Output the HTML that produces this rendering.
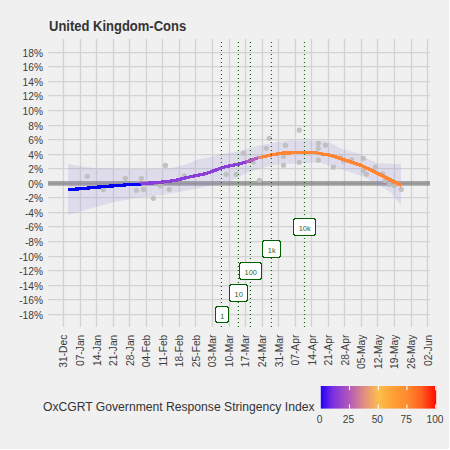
<!DOCTYPE html><html><head><meta charset="utf-8"><style>
html,body{margin:0;padding:0;background:#fff;}
svg{display:block;}
text{font-family:"Liberation Sans",sans-serif;}
</style></head><body>
<svg width="450" height="450" viewBox="0 0 450 450">
<rect x="0" y="0" width="449" height="449" fill="#F0F0F0"/>

<line x1="48" y1="314.55" x2="430" y2="314.55" stroke="#D3D3D3" stroke-width="1.3"/>
<line x1="48" y1="299.55" x2="430" y2="299.55" stroke="#D3D3D3" stroke-width="1.3"/>
<line x1="48" y1="285.55" x2="430" y2="285.55" stroke="#D3D3D3" stroke-width="1.3"/>
<line x1="48" y1="270.55" x2="430" y2="270.55" stroke="#D3D3D3" stroke-width="1.3"/>
<line x1="48" y1="256.55" x2="430" y2="256.55" stroke="#D3D3D3" stroke-width="1.3"/>
<line x1="48" y1="241.55" x2="430" y2="241.55" stroke="#D3D3D3" stroke-width="1.3"/>
<line x1="48" y1="226.55" x2="430" y2="226.55" stroke="#D3D3D3" stroke-width="1.3"/>
<line x1="48" y1="212.55" x2="430" y2="212.55" stroke="#D3D3D3" stroke-width="1.3"/>
<line x1="48" y1="197.55" x2="430" y2="197.55" stroke="#D3D3D3" stroke-width="1.3"/>
<line x1="48" y1="183.55" x2="430" y2="183.55" stroke="#D3D3D3" stroke-width="1.3"/>
<line x1="48" y1="168.55" x2="430" y2="168.55" stroke="#D3D3D3" stroke-width="1.3"/>
<line x1="48" y1="154.55" x2="430" y2="154.55" stroke="#D3D3D3" stroke-width="1.3"/>
<line x1="48" y1="139.55" x2="430" y2="139.55" stroke="#D3D3D3" stroke-width="1.3"/>
<line x1="48" y1="125.55" x2="430" y2="125.55" stroke="#D3D3D3" stroke-width="1.3"/>
<line x1="48" y1="110.55" x2="430" y2="110.55" stroke="#D3D3D3" stroke-width="1.3"/>
<line x1="48" y1="95.55" x2="430" y2="95.55" stroke="#D3D3D3" stroke-width="1.3"/>
<line x1="48" y1="81.55" x2="430" y2="81.55" stroke="#D3D3D3" stroke-width="1.3"/>
<line x1="48" y1="66.55" x2="430" y2="66.55" stroke="#D3D3D3" stroke-width="1.3"/>
<line x1="48" y1="52.55" x2="430" y2="52.55" stroke="#D3D3D3" stroke-width="1.3"/>
<line x1="63.50" y1="39" x2="63.50" y2="327" stroke="#D3D3D3" stroke-width="1.3"/>
<line x1="80.50" y1="39" x2="80.50" y2="327" stroke="#D3D3D3" stroke-width="1.3"/>
<line x1="96.50" y1="39" x2="96.50" y2="327" stroke="#D3D3D3" stroke-width="1.3"/>
<line x1="113.50" y1="39" x2="113.50" y2="327" stroke="#D3D3D3" stroke-width="1.3"/>
<line x1="129.50" y1="39" x2="129.50" y2="327" stroke="#D3D3D3" stroke-width="1.3"/>
<line x1="146.50" y1="39" x2="146.50" y2="327" stroke="#D3D3D3" stroke-width="1.3"/>
<line x1="162.50" y1="39" x2="162.50" y2="327" stroke="#D3D3D3" stroke-width="1.3"/>
<line x1="179.50" y1="39" x2="179.50" y2="327" stroke="#D3D3D3" stroke-width="1.3"/>
<line x1="195.50" y1="39" x2="195.50" y2="327" stroke="#D3D3D3" stroke-width="1.3"/>
<line x1="212.50" y1="39" x2="212.50" y2="327" stroke="#D3D3D3" stroke-width="1.3"/>
<line x1="229.50" y1="39" x2="229.50" y2="327" stroke="#D3D3D3" stroke-width="1.3"/>
<line x1="245.50" y1="39" x2="245.50" y2="327" stroke="#D3D3D3" stroke-width="1.3"/>
<line x1="262.50" y1="39" x2="262.50" y2="327" stroke="#D3D3D3" stroke-width="1.3"/>
<line x1="278.50" y1="39" x2="278.50" y2="327" stroke="#D3D3D3" stroke-width="1.3"/>
<line x1="295.50" y1="39" x2="295.50" y2="327" stroke="#D3D3D3" stroke-width="1.3"/>
<line x1="311.50" y1="39" x2="311.50" y2="327" stroke="#D3D3D3" stroke-width="1.3"/>
<line x1="328.50" y1="39" x2="328.50" y2="327" stroke="#D3D3D3" stroke-width="1.3"/>
<line x1="344.50" y1="39" x2="344.50" y2="327" stroke="#D3D3D3" stroke-width="1.3"/>
<line x1="361.50" y1="39" x2="361.50" y2="327" stroke="#D3D3D3" stroke-width="1.3"/>
<line x1="377.50" y1="39" x2="377.50" y2="327" stroke="#D3D3D3" stroke-width="1.3"/>
<line x1="394.50" y1="39" x2="394.50" y2="327" stroke="#D3D3D3" stroke-width="1.3"/>
<line x1="411.50" y1="39" x2="411.50" y2="327" stroke="#D3D3D3" stroke-width="1.3"/>
<line x1="427.50" y1="39" x2="427.50" y2="327" stroke="#D3D3D3" stroke-width="1.3"/>
<line x1="48" y1="183.45" x2="430" y2="183.45" stroke="#555555" stroke-opacity="0.5" stroke-width="4.8"/>
<polygon points="68,164 87,167.3 98,168.3 126,169 150,169 170,168.2 187.8,164 196.7,159.8 210,157 221.4,154.2 240,151.1 256.7,146.1 273.3,142.8 290,140.6 325,140.7 335,145 340,148.3 360.2,154 364.9,157.6 377.3,163.2 401,164 401,205.5 391,192.5 377.3,184.3 363.3,176.5 340,168.8 320,162.7 300,163.3 275,164.8 261.7,168 246,173.5 231.7,180.5 209,186 165,194.7 136.7,197.7 112,202.4 68,214.7" fill="#9A94D6" fill-opacity="0.21"/>
<circle cx="87.3" cy="176.3" r="2.6" fill="#BDBDBD" fill-opacity="0.9"/>
<circle cx="103.4" cy="189.6" r="2.6" fill="#BDBDBD" fill-opacity="0.9"/>
<circle cx="125.3" cy="178.3" r="2.6" fill="#BDBDBD" fill-opacity="0.9"/>
<circle cx="141.4" cy="178.3" r="2.6" fill="#BDBDBD" fill-opacity="0.9"/>
<circle cx="136.4" cy="190.3" r="2.6" fill="#BDBDBD" fill-opacity="0.9"/>
<circle cx="143.4" cy="189.4" r="2.6" fill="#BDBDBD" fill-opacity="0.9"/>
<circle cx="153.3" cy="198.3" r="2.6" fill="#BDBDBD" fill-opacity="0.9"/>
<circle cx="160.4" cy="185.7" r="2.6" fill="#BDBDBD" fill-opacity="0.9"/>
<circle cx="165.5" cy="165.4" r="2.6" fill="#BDBDBD" fill-opacity="0.9"/>
<circle cx="169.3" cy="189.3" r="2.6" fill="#BDBDBD" fill-opacity="0.9"/>
<circle cx="184.3" cy="175.8" r="2.6" fill="#BDBDBD" fill-opacity="0.9"/>
<circle cx="226.2" cy="174.3" r="2.6" fill="#BDBDBD" fill-opacity="0.9"/>
<circle cx="236.2" cy="174.3" r="2.6" fill="#BDBDBD" fill-opacity="0.9"/>
<circle cx="243.3" cy="153.3" r="2.6" fill="#BDBDBD" fill-opacity="0.9"/>
<circle cx="253.3" cy="161.9" r="2.6" fill="#BDBDBD" fill-opacity="0.9"/>
<circle cx="259.5" cy="180.3" r="2.6" fill="#BDBDBD" fill-opacity="0.9"/>
<circle cx="266.3" cy="148.3" r="2.6" fill="#BDBDBD" fill-opacity="0.9"/>
<circle cx="269.3" cy="138.3" r="2.6" fill="#BDBDBD" fill-opacity="0.9"/>
<circle cx="283.5" cy="156.5" r="2.6" fill="#BDBDBD" fill-opacity="0.9"/>
<circle cx="283.5" cy="165.2" r="2.6" fill="#BDBDBD" fill-opacity="0.9"/>
<circle cx="285.5" cy="145.4" r="2.6" fill="#BDBDBD" fill-opacity="0.9"/>
<circle cx="299.3" cy="130.2" r="2.6" fill="#BDBDBD" fill-opacity="0.9"/>
<circle cx="299.3" cy="162.3" r="2.6" fill="#BDBDBD" fill-opacity="0.9"/>
<circle cx="318.3" cy="143.3" r="2.6" fill="#BDBDBD" fill-opacity="0.9"/>
<circle cx="318.3" cy="148.3" r="2.6" fill="#BDBDBD" fill-opacity="0.9"/>
<circle cx="318.3" cy="160.2" r="2.6" fill="#BDBDBD" fill-opacity="0.9"/>
<circle cx="325.5" cy="145.2" r="2.6" fill="#BDBDBD" fill-opacity="0.9"/>
<circle cx="333.3" cy="167.2" r="2.6" fill="#BDBDBD" fill-opacity="0.9"/>
<circle cx="340.6" cy="157.6" r="2.6" fill="#BDBDBD" fill-opacity="0.9"/>
<circle cx="343.6" cy="161" r="2.6" fill="#BDBDBD" fill-opacity="0.9"/>
<circle cx="351.6" cy="159.8" r="2.6" fill="#BDBDBD" fill-opacity="0.9"/>
<circle cx="363.3" cy="158.3" r="2.6" fill="#BDBDBD" fill-opacity="0.9"/>
<circle cx="363.3" cy="170.5" r="2.6" fill="#BDBDBD" fill-opacity="0.9"/>
<circle cx="366.3" cy="174.2" r="2.6" fill="#BDBDBD" fill-opacity="0.9"/>
<circle cx="375.4" cy="167.2" r="2.6" fill="#BDBDBD" fill-opacity="0.9"/>
<circle cx="382.7" cy="173.8" r="2.6" fill="#BDBDBD" fill-opacity="0.9"/>
<circle cx="385.2" cy="180.5" r="2.6" fill="#BDBDBD" fill-opacity="0.9"/>
<circle cx="389.4" cy="184.4" r="2.6" fill="#BDBDBD" fill-opacity="0.9"/>
<circle cx="394.4" cy="185.7" r="2.6" fill="#BDBDBD" fill-opacity="0.9"/>
<circle cx="401.4" cy="189.3" r="2.6" fill="#BDBDBD" fill-opacity="0.9"/>
<polyline points="68.00,189.50 73.00,189.30 84.00,188.50 95.50,187.30 107.00,186.30 118.50,185.60 128.00,184.60 140.50,184.20" fill="none" stroke="#0000FF" stroke-width="3.3" stroke-linejoin="round" shape-rendering="crispEdges"/>
<polyline points="140.50,184.20 142.00,183.30 151.00,183.10 157.00,182.60 167.00,181.60 177.00,180.00 186.00,177.80 195.00,175.80 205.00,173.90 225.00,166.80 240.00,163.80 246.00,162.00" fill="none" stroke="#8B3FD8" stroke-width="3.3" stroke-linejoin="round" shape-rendering="crispEdges"/>
<polyline points="246.00,162.00 252.00,160.00 258.00,157.70" fill="none" stroke="#B35BC2" stroke-width="3.3" stroke-linejoin="round" shape-rendering="crispEdges"/>
<polyline points="258.00,157.70 262.00,157.00" fill="none" stroke="#DA8E8A" stroke-width="3.3" stroke-linejoin="round" shape-rendering="crispEdges"/>
<polyline points="262.00,157.00 270.00,155.20 283.00,153.00 315.00,152.40 321.70,154.00 331.00,155.30 342.00,159.00 360.00,165.00 370.00,169.50 386.00,177.50 401.30,185.30" fill="none" stroke="#FF8533" stroke-width="3.3" stroke-linejoin="round" shape-rendering="crispEdges"/>
<line x1="221.4" y1="327" x2="221.4" y2="39" stroke="#0A6A0A" stroke-width="1.2" stroke-dasharray="1.2 2.8" stroke-dashoffset="0.1"/>
<line x1="238.4" y1="327" x2="238.4" y2="39" stroke="#0A6A0A" stroke-width="1.2" stroke-dasharray="1.2 2.8" stroke-dashoffset="0.1"/>
<line x1="250.4" y1="327" x2="250.4" y2="39" stroke="#0A6A0A" stroke-width="1.2" stroke-dasharray="1.2 2.8" stroke-dashoffset="0.1"/>
<line x1="271.4" y1="327" x2="271.4" y2="39" stroke="#0A6A0A" stroke-width="1.2" stroke-dasharray="1.2 2.8" stroke-dashoffset="0.1"/>
<line x1="304.5" y1="327" x2="304.5" y2="39" stroke="#0A6A0A" stroke-width="1.2" stroke-dasharray="1.2 2.8" stroke-dashoffset="0.1"/>
<rect x="215.5" y="306.5" width="13" height="16" rx="2.5" ry="2.5" fill="#FFFFFF" stroke="#006000" stroke-width="1.1" shape-rendering="crispEdges"/>
<text transform="translate(222.20,318.60) scale(1,1.08)" font-size="7.4" fill="#2F632F" text-anchor="middle">1</text>
<rect x="229.5" y="284.5" width="18" height="17" rx="2.5" ry="2.5" fill="#FFFFFF" stroke="#006000" stroke-width="1.1" shape-rendering="crispEdges"/>
<text transform="translate(238.70,296.60) scale(1,1.08)" font-size="7.4" fill="#2F632F" text-anchor="middle">10</text>
<rect x="239.5" y="262.5" width="22" height="17" rx="2.5" ry="2.5" fill="#FFFFFF" stroke="#006000" stroke-width="1.1" shape-rendering="crispEdges"/>
<text transform="translate(250.70,274.60) scale(1,1.08)" font-size="7.4" fill="#2F632F" text-anchor="middle">100</text>
<rect x="262.5" y="240.5" width="18" height="17" rx="2.5" ry="2.5" fill="#FFFFFF" stroke="#006000" stroke-width="1.1" shape-rendering="crispEdges"/>
<text transform="translate(271.70,252.60) scale(1,1.08)" font-size="7.4" fill="#2F632F" text-anchor="middle">1k</text>
<rect x="293.5" y="218.5" width="22" height="17" rx="2.5" ry="2.5" fill="#FFFFFF" stroke="#006000" stroke-width="1.1" shape-rendering="crispEdges"/>
<text transform="translate(304.70,230.60) scale(1,1.08)" font-size="7.4" fill="#2F632F" text-anchor="middle">10k</text>
<text transform="translate(43.0,318.78)" font-size="10.2" fill="#3C3C3C" text-anchor="end">-18%</text>
<text transform="translate(43.0,304.23)" font-size="10.2" fill="#3C3C3C" text-anchor="end">-16%</text>
<text transform="translate(43.0,289.67)" font-size="10.2" fill="#3C3C3C" text-anchor="end">-14%</text>
<text transform="translate(43.0,275.12)" font-size="10.2" fill="#3C3C3C" text-anchor="end">-12%</text>
<text transform="translate(43.0,260.56)" font-size="10.2" fill="#3C3C3C" text-anchor="end">-10%</text>
<text transform="translate(43.0,246.00)" font-size="10.2" fill="#3C3C3C" text-anchor="end">-8%</text>
<text transform="translate(43.0,231.45)" font-size="10.2" fill="#3C3C3C" text-anchor="end">-6%</text>
<text transform="translate(43.0,216.89)" font-size="10.2" fill="#3C3C3C" text-anchor="end">-4%</text>
<text transform="translate(43.0,202.34)" font-size="10.2" fill="#3C3C3C" text-anchor="end">-2%</text>
<text transform="translate(43.0,187.78)" font-size="10.2" fill="#3C3C3C" text-anchor="end">0%</text>
<text transform="translate(43.0,173.22)" font-size="10.2" fill="#3C3C3C" text-anchor="end">2%</text>
<text transform="translate(43.0,158.67)" font-size="10.2" fill="#3C3C3C" text-anchor="end">4%</text>
<text transform="translate(43.0,144.11)" font-size="10.2" fill="#3C3C3C" text-anchor="end">6%</text>
<text transform="translate(43.0,129.56)" font-size="10.2" fill="#3C3C3C" text-anchor="end">8%</text>
<text transform="translate(43.0,115.00)" font-size="10.2" fill="#3C3C3C" text-anchor="end">10%</text>
<text transform="translate(43.0,100.44)" font-size="10.2" fill="#3C3C3C" text-anchor="end">12%</text>
<text transform="translate(43.0,85.89)" font-size="10.2" fill="#3C3C3C" text-anchor="end">14%</text>
<text transform="translate(43.0,71.33)" font-size="10.2" fill="#3C3C3C" text-anchor="end">16%</text>
<text transform="translate(43.0,56.78)" font-size="10.2" fill="#3C3C3C" text-anchor="end">18%</text>
<text transform="translate(67.40,334.7) rotate(-90)" font-size="10.25" fill="#3C3C3C" text-anchor="end">31-Dec</text>
<text transform="translate(83.95,334.7) rotate(-90)" font-size="10.25" fill="#3C3C3C" text-anchor="end">07-Jan</text>
<text transform="translate(100.50,334.7) rotate(-90)" font-size="10.25" fill="#3C3C3C" text-anchor="end">14-Jan</text>
<text transform="translate(117.05,334.7) rotate(-90)" font-size="10.25" fill="#3C3C3C" text-anchor="end">21-Jan</text>
<text transform="translate(133.60,334.7) rotate(-90)" font-size="10.25" fill="#3C3C3C" text-anchor="end">28-Jan</text>
<text transform="translate(150.15,334.7) rotate(-90)" font-size="10.25" fill="#3C3C3C" text-anchor="end">04-Feb</text>
<text transform="translate(166.70,334.7) rotate(-90)" font-size="10.25" fill="#3C3C3C" text-anchor="end">11-Feb</text>
<text transform="translate(183.25,334.7) rotate(-90)" font-size="10.25" fill="#3C3C3C" text-anchor="end">18-Feb</text>
<text transform="translate(199.80,334.7) rotate(-90)" font-size="10.25" fill="#3C3C3C" text-anchor="end">25-Feb</text>
<text transform="translate(216.35,334.7) rotate(-90)" font-size="10.25" fill="#3C3C3C" text-anchor="end">03-Mar</text>
<text transform="translate(232.90,334.7) rotate(-90)" font-size="10.25" fill="#3C3C3C" text-anchor="end">10-Mar</text>
<text transform="translate(249.45,334.7) rotate(-90)" font-size="10.25" fill="#3C3C3C" text-anchor="end">17-Mar</text>
<text transform="translate(266.00,334.7) rotate(-90)" font-size="10.25" fill="#3C3C3C" text-anchor="end">24-Mar</text>
<text transform="translate(282.55,334.7) rotate(-90)" font-size="10.25" fill="#3C3C3C" text-anchor="end">31-Mar</text>
<text transform="translate(299.10,334.7) rotate(-90)" font-size="10.25" fill="#3C3C3C" text-anchor="end">07-Apr</text>
<text transform="translate(315.65,334.7) rotate(-90)" font-size="10.25" fill="#3C3C3C" text-anchor="end">14-Apr</text>
<text transform="translate(332.20,334.7) rotate(-90)" font-size="10.25" fill="#3C3C3C" text-anchor="end">21-Apr</text>
<text transform="translate(348.75,334.7) rotate(-90)" font-size="10.25" fill="#3C3C3C" text-anchor="end">28-Apr</text>
<text transform="translate(365.30,334.7) rotate(-90)" font-size="10.25" fill="#3C3C3C" text-anchor="end">05-May</text>
<text transform="translate(381.85,334.7) rotate(-90)" font-size="10.25" fill="#3C3C3C" text-anchor="end">12-May</text>
<text transform="translate(398.40,334.7) rotate(-90)" font-size="10.25" fill="#3C3C3C" text-anchor="end">19-May</text>
<text transform="translate(414.95,334.7) rotate(-90)" font-size="10.25" fill="#3C3C3C" text-anchor="end">26-May</text>
<text transform="translate(431.50,334.7) rotate(-90)" font-size="10.25" fill="#3C3C3C" text-anchor="end">02-Jun</text>
<text transform="translate(49,30.8) scale(1,1.1)" font-size="13" font-weight="bold" fill="#333333">United Kingdom-Cons</text>
<text x="43" y="411.2" font-size="12.15" fill="#333333">OxCGRT Government Response Stringency Index</text>
<defs><linearGradient id="cb" x1="0" x2="1" y1="0" y2="0">
<stop offset="0" stop-color="#2000FF"/>
<stop offset="0.1" stop-color="#7A2FE0"/>
<stop offset="0.25" stop-color="#B45AB8"/>
<stop offset="0.38" stop-color="#E29080"/>
<stop offset="0.5" stop-color="#FDBE4D"/>
<stop offset="0.62" stop-color="#FFA236"/>
<stop offset="0.75" stop-color="#FF8A2E"/>
<stop offset="0.87" stop-color="#FF6020"/>
<stop offset="1" stop-color="#FF0A00"/>
</linearGradient></defs>
<rect x="320.8" y="386" width="115.4" height="22.6" fill="url(#cb)"/>
<text transform="translate(319.60,423) scale(1,1.07)" font-size="10.2" fill="#3C3C3C" text-anchor="middle">0</text>
<line x1="349.50" y1="386" x2="349.50" y2="390.2" stroke="#FFFFFF" stroke-width="1.1"/>
<line x1="349.50" y1="404.4" x2="349.50" y2="408.6" stroke="#FFFFFF" stroke-width="1.1"/>
<text transform="translate(348.45,423) scale(1,1.07)" font-size="10.2" fill="#3C3C3C" text-anchor="middle">25</text>
<line x1="378.30" y1="386" x2="378.30" y2="390.2" stroke="#FFFFFF" stroke-width="1.1"/>
<line x1="378.30" y1="404.4" x2="378.30" y2="408.6" stroke="#FFFFFF" stroke-width="1.1"/>
<text transform="translate(377.30,423) scale(1,1.07)" font-size="10.2" fill="#3C3C3C" text-anchor="middle">50</text>
<line x1="406.90" y1="386" x2="406.90" y2="390.2" stroke="#FFFFFF" stroke-width="1.1"/>
<line x1="406.90" y1="404.4" x2="406.90" y2="408.6" stroke="#FFFFFF" stroke-width="1.1"/>
<text transform="translate(406.15,423) scale(1,1.07)" font-size="10.2" fill="#3C3C3C" text-anchor="middle">75</text>
<line x1="435.70" y1="386" x2="435.70" y2="390.2" stroke="#FFFFFF" stroke-width="1.1"/>
<line x1="435.70" y1="404.4" x2="435.70" y2="408.6" stroke="#FFFFFF" stroke-width="1.1"/>
<text transform="translate(435.00,423) scale(1,1.07)" font-size="10.2" fill="#3C3C3C" text-anchor="middle">100</text>
</svg></body></html>
